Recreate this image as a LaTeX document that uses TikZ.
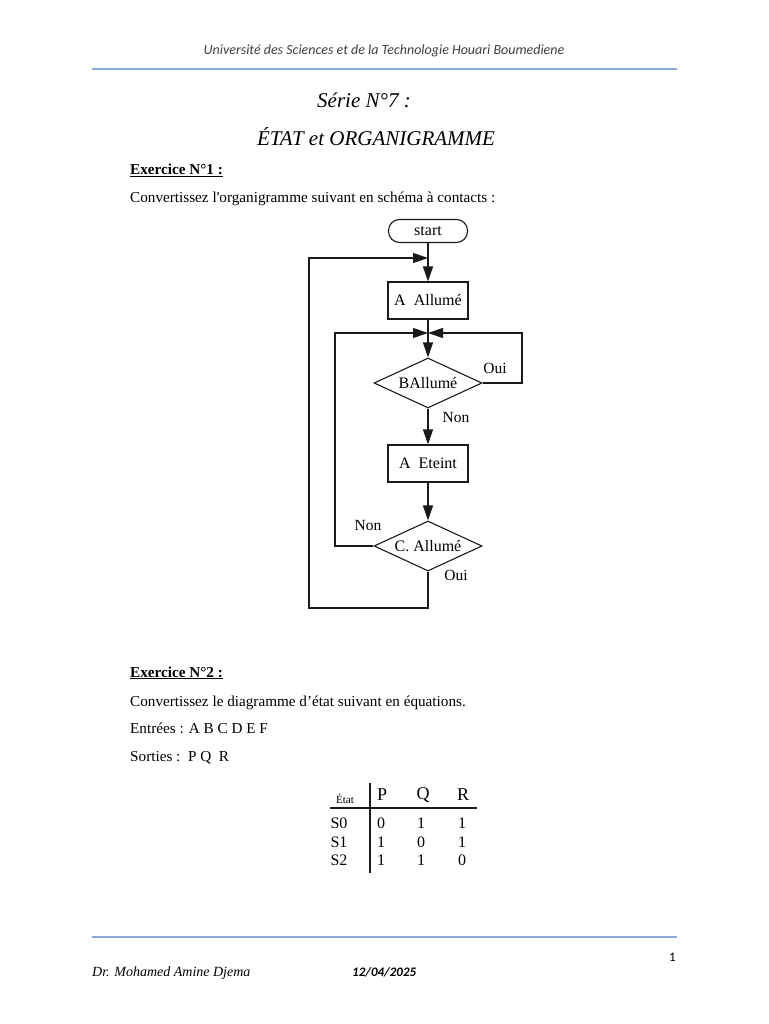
\documentclass[tikz,border=0pt]{standalone}
\usepackage{fontspec}
\setmainfont{Liberation Serif}
\newfontfamily\calib{Carlito}
\newfontfamily\rawserif{Liberation Serif}[Ligatures=TeXOff]
\usetikzlibrary{arrows.meta,shapes.geometric}
\definecolor{rulecol}{HTML}{8EAADB}
\definecolor{inkcol}{HTML}{1A1A1A}
\tikzset{
  body/.style={anchor=base west,inner sep=0,font=\fontsize{15.2}{18}\selectfont},
  flow/.style={draw=inkcol,line width=1.1pt,font=\fontsize{16}{19}\selectfont,inner sep=0},
  procbox/.style={flow,rectangle,minimum width=80,minimum height=37},
  decis/.style={flow,diamond,minimum width=108,minimum height=50,aspect=2.16},
  conn/.style={draw=inkcol,line width=1.1pt,-{Triangle[length=15pt,width=10pt]}},
  plain/.style={draw=inkcol,line width=1.1pt},
  flab/.style={inner sep=0,font=\fontsize{15.5}{18}\selectfont},
  tabtxt/.style={inner sep=0,font=\fontsize{16}{18}\selectfont},
  tabhead/.style={inner sep=0,font=\fontsize{18}{21}\selectfont},
}
\begin{document}
\begin{tikzpicture}[x=1pt,y=-1pt]
\useasboundingbox (0,0) rectangle (768,1024);
\fill[white] (0,0) rectangle (768,1024);
% header
\node[anchor=base,inner sep=0,font=\calib\itshape\fontsize{14}{17}\selectfont,text=black!75] (hdr) at (384,55) {Université des Sciences et de la Technologie Houari Boumediene};
\draw[rulecol,line width=1.6pt] (92,69) -- (677,69);
% title
\node[anchor=base,inner sep=0,font=\itshape\fontsize{21}{25}\selectfont] (t1) at (364,108) {Série N°7 :};
\node[anchor=base,inner sep=0,font=\itshape\fontsize{21}{25}\selectfont] (t2) at (376,146) {ÉTAT et ORGANIGRAMME};
% exercise 1
\node[body,font=\bfseries\fontsize{15.2}{18}\selectfont] (ex1) at (130,175) {\underline{Exercice N°1 :}};
\node[body] (ex1t) at (130,203) {Convertissez l{\rawserif'}organigramme suivant en schéma à contacts :};
% flowchart
\node[flow,rectangle,rounded corners=11,minimum width=79,minimum height=23] (start) at (428,231) {start};
\node[procbox] (aon) at (428,300.5) {A\ \ Allumé};
\node[decis] (bon) at (428,383) {BAllumé};
\node[procbox] (aoff) at (428,463.5) {A\ \ Eteint};
\node[decis] (con) at (428,546) {C. Allumé};
\coordinate (j1) at (428,258);
\coordinate (j2) at (428,333);
\draw[conn] (start) -- (aon);
\draw[conn] (aon) -- (bon);
\draw[conn] (bon) -- (aoff);
\draw[conn] (aoff) -- (con);
\draw[conn] (bon.east) -| (522,333) -- (j2);
\draw[conn] (con.west) -| (335,333) -- (j2);
\draw[conn] (con.south) -- (428,608) -| (309,258) -- (j1);
\node[flab] (oui1) at (495,368) {Oui};
\node[flab] (non1) at (456,417) {Non};
\node[flab] (non2) at (368,525) {Non};
\node[flab] (oui2) at (456,575) {Oui};
% exercise 2
\node[body,font=\bfseries\fontsize{15.2}{18}\selectfont] (ex2) at (130,677) {\underline{Exercice N°2 :}};
\node[body] (ex2a) at (130,706) {Convertissez le diagramme d’état suivant en équations.};
\node[body] (ex2b) at (130,733) {Entrées : A B C D E F};
\node[body] (ex2c) at (130,761) {Sorties :\ \ P Q\ \ R};
% table
\draw[plain,line width=1.2pt] (370,783) -- (370,873);
\draw[plain,line width=1.2pt] (330,808) -- (477,808);
\node[inner sep=0,font=\fontsize{11}{13}\selectfont] (etat) at (345,799) {État};
\node[tabhead] (hp) at (382,795) {P};
\node[tabhead] (hq) at (423,795) {Q};
\node[tabhead] (hr) at (463,795) {R};
\node[tabtxt] (s0) at (339,823) {S0};
\node[tabtxt] (s1) at (339,842) {S1};
\node[tabtxt] (s2) at (339,860) {S2};
\node[tabtxt] (v00) at (381,823) {0};
\node[tabtxt] (v01) at (421,823) {1};
\node[tabtxt] (v02) at (462,823) {1};
\node[tabtxt] (v10) at (381,842) {1};
\node[tabtxt] (v11) at (421,842) {0};
\node[tabtxt] (v12) at (462,842) {1};
\node[tabtxt] (v20) at (381,860) {1};
\node[tabtxt] (v21) at (421,860) {1};
\node[tabtxt] (v22) at (462,860) {0};
% footer
\draw[rulecol,line width=1.6pt] (92,937) -- (677,937);
\node[anchor=base east,inner sep=0,font=\calib\fontsize{13}{16}\selectfont] (pg) at (676,961) {1};
\node[anchor=base west,inner sep=0,font=\itshape\fontsize{14}{17}\selectfont] (auth) at (92,976) {Dr. Mohamed Amine Djema};
\node[anchor=base west,inner sep=0,font=\calib\bfseries\itshape\fontsize{13}{16}\selectfont] (date) at (352,976) {12/04/2025};
\end{tikzpicture}
\end{document}
